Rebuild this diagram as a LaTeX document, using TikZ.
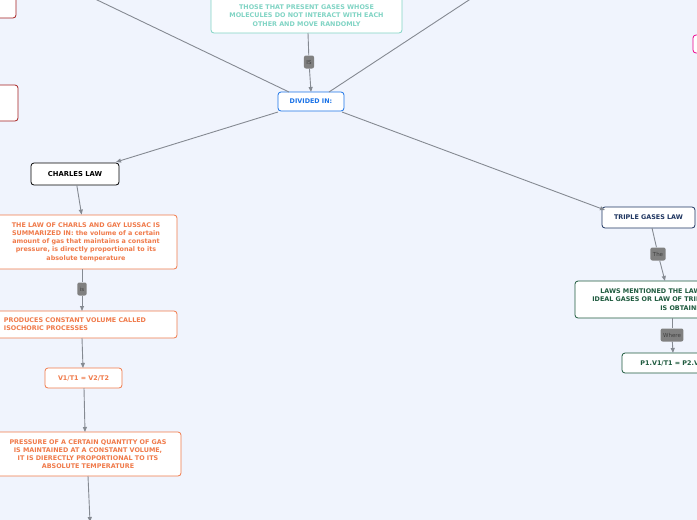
\documentclass[tikz,border=0pt]{standalone}
\usepackage{fontspec}
\setmainfont{DejaVu Sans}
\usetikzlibrary{arrows.meta}
\definecolor{bg}{HTML}{F0F4FD}
\definecolor{teal}{HTML}{80D4C4}
\definecolor{blu}{HTML}{1A73E8}
\definecolor{org}{HTML}{F07A4A}
\definecolor{nav}{HTML}{1E3560}
\definecolor{grn}{HTML}{1E5A3E}
\definecolor{dred}{HTML}{A52020}
\definecolor{lin}{HTML}{858A92}
\tikzset{
 box/.style={draw,rounded corners=3pt,fill=white,line width=0.8pt,align=center,inner sep=0pt,font=\fontsize{6.4}{8.2}\selectfont\bfseries},
 lbl/.style={fill=black!50,rounded corners=2pt,text=black!75,font=\fontsize{5.5}{6}\selectfont,inner sep=2.5pt,minimum height=13pt},
 con/.style={draw=lin,line width=0.9pt},
 arr/.style={con,-{Triangle[length=5pt,width=4pt]}}
}
\begin{document}
\begin{tikzpicture}[x=1pt,y=-1pt]
\fill[bg] (0,0) rectangle (697,520);
\clip (0,0) rectangle (697,520);
\node[box,draw=dred,minimum width=80pt,minimum height=30pt] (r1) at (-24,3) {};
\node[box,draw=dred,minimum width=80pt,minimum height=36pt] (r2) at (-22,103) {};
\node[box,draw=magenta,minimum width=40pt,minimum height=18pt] (pk) at (713,44) {};
\node[box,draw=teal,minimum width=191pt,minimum height=50pt] (tl) at (306.5,8) {};
\node[text=teal,align=center,inner sep=0pt,font=\fontsize{6.4}{8.2}\selectfont\bfseries] (tlt) at (306.5,15.5) {THOSE THAT PRESENT GASES WHOSE\\MOLECULES DO NOT INTERACT WITH EACH\\OTHER AND MOVE RANDOMLY};
\node[box,draw=blu,text=blu,minimum width=66pt,minimum height=19pt] (dv) at (311,101.5) {DIVIDED IN:};
\coordinate (c1) at (93,-2);
\coordinate (c2) at (472,-2);
\draw[con] (c1) -- (289,92);
\draw[con] (c2) -- (329,92);
\node[lbl] (is) at (309,62) {IS};
\draw[con] (308,33) -- (is);
\draw[arr] (is) -- (311,92);
\node[box,draw=black,text=black,minimum width=88pt,minimum height=22pt,font=\fontsize{6.8}{8}\selectfont\bfseries] (ch) at (75,174) {CHARLES LAW};
\node[box,draw=nav,text=nav,minimum width=93pt,minimum height=21pt] (tr) at (648.5,217.5) {TRIPLE GASES LAW};
\draw[arr] (278,112) -- (116,162);
\draw[arr] (342,112) -- (605,210);
\node[box,draw=org,text=org,minimum width=182pt,minimum height=54pt] (lw) at (86,242) {THE LAW OF CHARLS AND GAY LUSSAC IS\\SUMMARIZED IN: the volume of a certain\\amount of gas that maintains a constant\\pressure, is directly proportional to its\\absolute temperature};
\draw[arr] (ch) -- (lw);
\node[box,draw=org,text=org,minimum width=187pt,minimum height=27pt,align=left] (pr) at (83.5,324.5) {PRODUCES CONSTANT VOLUME CALLED\\ISOCHORIC PROCESSES\hspace*{75pt}};
\node[lbl] (isl) at (82,289) {is};
\draw[con] (82,269) -- (isl);
\draw[arr] (isl) -- (82,311);
\node[box,draw=org,text=org,minimum width=77pt,minimum height=20pt] (v1) at (83.5,378) {V1/T1 = V2/T2};
\draw[arr] (82,338) -- (83,368);
\node[box,draw=org,text=org,minimum width=186pt,minimum height=44pt] (ps) at (88,454) {PRESSURE OF A CERTAIN QUANTITY OF GAS\\IS MAINTAINED AT A CONSTANT VOLUME,\\IT IS DIERECTLY PROPORTIONAL TO ITS\\ABSOLUTE TEMPERATURE};
\draw[arr] (84,388) -- (85,432);
\coordinate (bt) at (90,522);
\draw[arr] (88,476) -- (bt);
\node[box,draw=grn,text=grn,minimum width=155pt,minimum height=37pt,align=left] (lm) at (652.5,299.5) {\hspace*{8pt}LAWS MENTIONED THE LAW OF\\IDEAL GASES OR LAW OF TRIPLE\\\hspace*{68pt}IS OBTAINED};
\node[lbl] (th) at (658,254) {The};
\draw[con] (652,228) -- (th);
\draw[arr] (th) -- (665,281);
\node[box,draw=grn,text=grn,minimum width=110pt,minimum height=20pt,align=left] (p1) at (677,363) {\,P1.V1/T1 = P2.V2/T2};
\node[lbl] (wh) at (672,335) {Where};
\draw[con] (672,318) -- (wh);
\draw[arr] (wh) -- (673,353);
\end{tikzpicture}
\end{document}
